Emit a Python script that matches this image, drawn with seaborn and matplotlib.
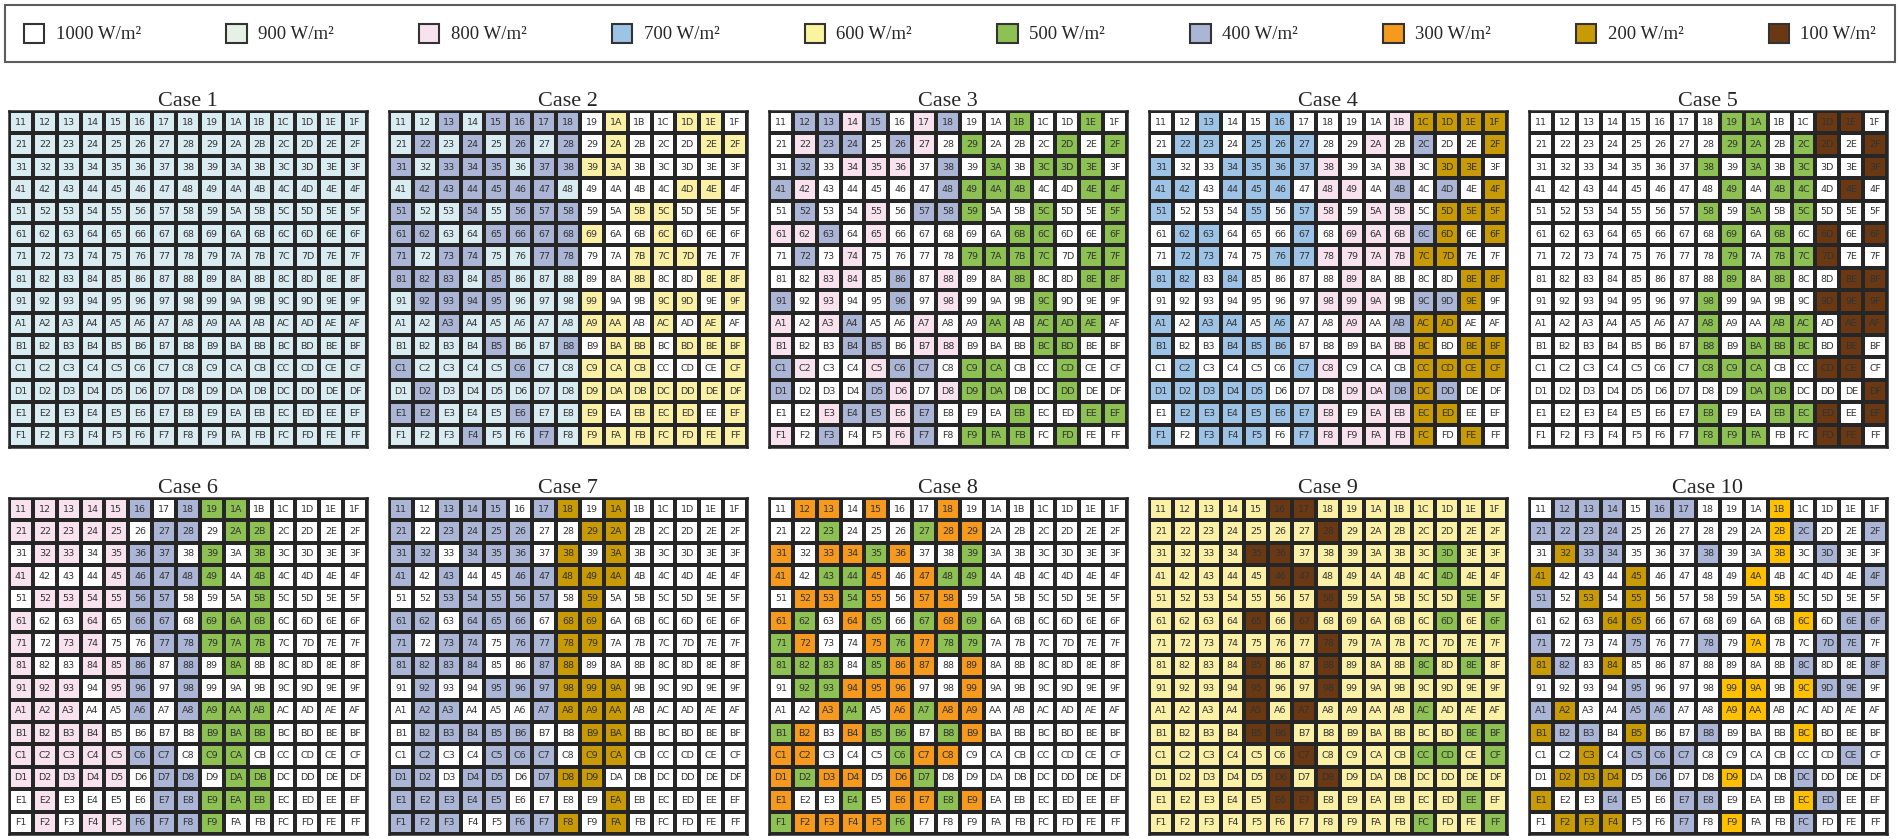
import matplotlib
matplotlib.use("Agg")
import matplotlib.pyplot as plt
import seaborn as sns
import numpy as np
from matplotlib.colors import ListedColormap
from matplotlib.patches import Patch

# ---------------- data ----------------
levels = ["1000", "900", "800", "700", "600", "500", "400", "300", "200", "100"]
legend_labels = [f"{v} W/m²" for v in levels]
# code characters used in the case grids ('Y' = bright yellow cells of case 10)
codes = ["0", "9", "8", "7", "6", "5", "4", "3", "2", "1", "Y"]
grid_colors = ["#FFFFFF", "#D8ECF2", "#F8E2EE", "#9DC3E6", "#FAF0A6", "#8DC153",
               "#ABB5D6", "#F6991F", "#C89A05", "#6A3913", "#FFC000"]
legend_colors = ["#FFFFFF", "#E4F1E4", "#F8E2EE", "#9DC3E6", "#FAF3A0", "#8DC153",
                 "#ABB5D6", "#F6991F", "#C89A05", "#6A3913"]

row_ids = list("123456789ABCDEF")
col_ids = list("123456789ABCDEF")
case_titles = [f"Case {i}" for i in range(1, 11)]

case1 = ["999999999999999"] * 15
case2 = ["994944440600660", "949494940600066", "494449446600000", "944444490000660",
         "499494440066000", "449944446006000", "494499440066600", "444949990060066",
         "944449996006606", "994999996606060", "999949940660666", "499994996660006",
         "949999996666666", "449994996066606", "999499496666666"]
case3 = ["044840840050050", "084404805000505", "040888040505550", "480000045550055",
         "040080445005005", "884080000055005", "040800005555055", "008804080050055",
         "408004080005000", "808400800505550", "800440880005500", "480084405500500",
         "400048085500500", "008448400050055", "804008405550500"]
case4 = ["007007000082222", "077077700804002", "700777780080220", "770777088040402",
         "700070780880222", "077000708884202", "077007788882200", "770700008000022",
         "000000088804420", "707707008042200", "700777000082022", "070000780002222",
         "777770008842400", "077777780882200", "707770788882020"]
case5 = ["000000005500110", "000000005505101", "000000050505001", "000000005055010",
         "000000050505000", "000000005050101", "000000005055100", "000000005050011",
         "000000050000111", "000000050055011", "000000050555010", "000000055500110",
         "000000000550001", "000000050055101", "000000055500110"]
case6 = ["888884045500000", "888880440550000", "088084405050000", "800084445050000",
         "088884400050000", "800804405550000", "808800445550000", "800884040500000",
         "888084040000000", "888004045550000", "888800005550000", "888884405500000",
         "888880440550000", "080000445550000", "080884445000000"]
case7 = ["404440420200000", "404444002200000", "440444020200000", "404004422200000",
         "004444402000000", "440444022000000", "404404422000000", "444400420000000",
         "040044422200000", "044000422200000", "044444002200000", "040044402200000",
         "440440422000000", "444440000200000", "444004420200000"]
case8 = ["033030030000000", "005000533000000", "303353005000000", "305530355000000",
         "033530330000000", "350350535000000", "530035355000000", "555053303000000",
         "055333003000000", "003503533000000", "530355053000000", "330005330000000",
         "353303500000000", "300503353000000", "533335000000000"]
case9 = ["666661166666666", "666666616666666", "666611666666566", "666661166666566",
         "666666616666656", "666616166666565", "666666616666666", "666616616665656",
         "666616616666666", "666616166665666", "666611666666655", "666666166665565",
         "666661616666666", "666661166666656", "666666666665665"]
case10 = ["0444044000Y0000", "4444000000Y4004", "0244000400Y0400", "200020000Y00004",
          "4020200000Y0000", "00022000000Y044", "400040040Y00440", "240200000004004",
          "00004000YY0Y440", "42004400YY00000", "24402004000Y000", "002044400000040",
          "02220400Y004000", "20040044000Y400", "02220040Y004000"]
cases = [case1, case2, case3, case4, case5, case6, case7, case8, case9, case10]

# ---------------- plot ----------------
sns.set_theme(style="white")
plt.rcParams["font.family"] = ["DejaVu Sans"]

W, H = 1900, 840
fig = plt.figure(figsize=(W / 100, H / 100), dpi=100)
cmap = ListedColormap(grid_colors)
labels = np.array([[r + c for c in col_ids] for r in row_ids])

lefts = [9, 389, 769, 1149, 1529]
tops = [111, 498]
gw, gh = 358, 336

for k, grid in enumerate(cases):
    assert len(grid) == 15 and all(len(s) == 15 for s in grid), k
    data = np.array([[codes.index(ch) for ch in s] for s in grid], dtype=float)
    r, c = divmod(k, 5)
    ax = fig.add_axes([lefts[c] / W, 1 - (tops[r] + gh) / H, gw / W, gh / H])
    sns.heatmap(data, ax=ax, cmap=cmap, vmin=-0.5, vmax=len(codes) - 0.5, cbar=False,
                annot=labels, fmt="", annot_kws=dict(fontsize=6.8, color="#333333"),
                linewidths=1.7, linecolor="#262626",
                xticklabels=False, yticklabels=False)
    for sp in ax.spines.values():
        sp.set_visible(True)
        sp.set_linewidth(1.8)
        sp.set_color("#262626")
    ax.set_title(case_titles[k], fontsize=16, family="Liberation Serif", pad=2)

handles = [Patch(facecolor=col, edgecolor="#333333", linewidth=1.5) for col in legend_colors]
leg = fig.legend(handles, legend_labels, loc="center", ncol=10,
                 bbox_to_anchor=(5 / W, 1 - 62 / H, 1890 / W, 57 / H), mode="expand",
                 frameon=True, fancybox=False, edgecolor="#333333",
                 prop=dict(family="Liberation Serif", size=13.5),
                 handlelength=1.1, handleheight=1.2, handletextpad=0.6,
                 borderpad=1.0, borderaxespad=0)
leg.get_frame().set_linewidth(1.5)

fig.savefig("out.png", dpi=100, facecolor="white")
